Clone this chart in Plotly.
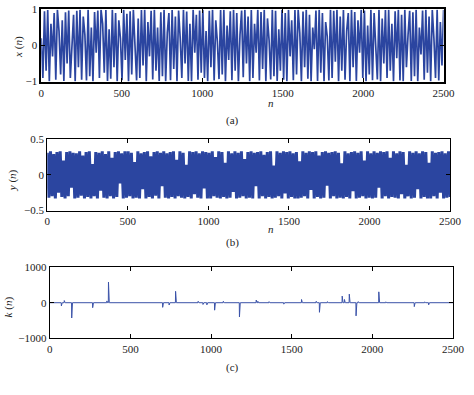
import numpy as np
import plotly.graph_objects as go

W, H = 474, 395
LINE = "#2b45a0"
FONT = "Liberation Serif"

# (a) x(n) chaotic input signal, read as one sample every ~10 steps
x_vals = [
 0.2, -0.9, 0.95, -0.7, 0.98, -0.99, 0.6, -0.3, 0.9, -0.95, 0.99, 0.4, -0.8, 0.7, -0.98, 0.92, -0.5, 0.97, -0.9, 0.1, 0.85, -0.99, 0.96, -0.6, 0.99,
 -0.95, 0.8, 0.3, -0.97, 0.99, -0.85, 0.5, -0.99, 0.93, -0.2, 0.97, -0.9, 0.99, 0.6, -0.75, 0.98, -0.98, 0.45, -0.92, 0.99, -0.6, 0.9, -0.99, 0.7, 0.2,
 -0.96, 0.99, -0.4, 0.88, -0.99, 0.95, -0.8, 0.99, 0.1, -0.97, 0.75, -0.9, 0.98, -0.55, 0.99, -0.99, 0.65, -0.3, 0.96, -0.94, 0.99, -0.7, 0.5, -0.98, 0.92,
 -0.85, 0.99, -0.99, 0.35, 0.9, -0.96, 0.98, -0.65, 0.8, -0.99, 0.97, 0.2, -0.9, 0.99, -0.5, 0.94, -0.98, 0.6, -0.99, 0.99, -0.2, 0.85, -0.95, 0.97, -0.75,
 0.99, -0.9, 0.4, -0.99, 0.96, -0.6, 0.99, -0.97, 0.7, 0.1, -0.93, 0.98, -0.8, 0.99, -0.99, 0.55, -0.4, 0.95, -0.96, 0.99, -0.7, 0.9, -0.99, 0.3, 0.97,
 -0.88, 0.99, -0.5, 0.8, -0.99, 0.98, -0.9, 0.6, -0.2, 0.99, -0.97, 0.93, -0.65, 0.99, -0.99, 0.75, 0.15, -0.94, 0.99, -0.85, 0.96, -0.98, 0.45, -0.7, 0.99,
 -0.95, 0.9, -0.99, 0.99, -0.3, 0.7, -0.96, 0.98, -0.8, 0.99, 0.35, -0.99, 0.94, -0.6, 0.99, -0.92, 0.85, -0.99, 0.5, -0.1, 0.97, -0.98, 0.99, -0.75, 0.9,
 -0.99, 0.65, 0.25, -0.97, 0.99, -0.9, 0.96, -0.45, 0.99, -0.99, 0.8, -0.7, 0.98, -0.95, 0.4, 0.9, -0.99, 0.99, -0.6, 0.93, -0.98, 0.7, -0.2, 0.99, -0.9,
 0.97, -0.99, 0.55, -0.8, 0.99, -0.96, 0.9, 0.05, -0.94, 0.99, -0.99, 0.75, -0.5, 0.98, -0.9, 0.99, -0.7, 0.6, -0.99, 0.95, -0.35, 0.99, -0.97, 0.85, -0.99,
 0.99, -0.6, 0.3, 0.96, -0.98, 0.92, -0.85, 0.99, -0.99, 0.5, -0.25, 0.97, -0.95, 0.99, -0.75, 0.8, -0.99, 0.98, 0.2, -0.9, 0.99, -0.97, 0.65, -0.55, 0.99,
]

# (b) y(n) output signal
y_vals = [
 0.31, -0.32, 0.33, -0.3, 0.29, -0.33, 0.32, -0.25, 0.33, -0.31, 0.2, -0.33, 0.32, -0.3, 0.33, -0.18, 0.31, -0.33, 0.3, -0.32, 0.33, -0.29, 0.27, -0.33, 0.32,
 -0.31, 0.33, -0.33, 0.15, -0.3, 0.32, -0.33, 0.31, -0.22, 0.33, -0.32, 0.29, -0.33, 0.33, -0.3, 0.24, -0.33, 0.32, -0.31, 0.33, -0.12, 0.3, -0.33, 0.33, -0.32,
 0.33, -0.3, 0.31, -0.33, 0.18, -0.32, 0.33, -0.33, 0.3, -0.2, 0.32, -0.33, 0.33, -0.31, 0.26, -0.33, 0.32, -0.29, 0.33, -0.33, 0.31, -0.16, 0.33, -0.32, 0.3,
 -0.33, 0.32, -0.31, 0.33, -0.33, 0.21, -0.3, 0.33, -0.32, 0.31, -0.33, 0.14, -0.31, 0.33, -0.33, 0.32, -0.27, 0.33, -0.32, 0.3, -0.33, 0.33, -0.19, 0.32, -0.33,
 0.31, -0.33, 0.33, -0.3, 0.25, -0.32, 0.33, -0.33, 0.32, -0.31, 0.17, -0.33, 0.33, -0.32, 0.3, -0.24, 0.33, -0.33, 0.31, -0.32, 0.33, -0.3, 0.22, -0.33, 0.32,
 -0.32, 0.33, -0.33, 0.31, -0.16, 0.32, -0.33, 0.33, -0.3, 0.28, -0.33, 0.32, -0.31, 0.33, -0.33, 0.13, -0.32, 0.33, -0.3, 0.31, -0.33, 0.33, -0.26, 0.32, -0.33,
 0.33, -0.31, 0.3, -0.33, 0.32, -0.33, 0.19, -0.32, 0.33, -0.3, 0.31, -0.33, 0.33, -0.21, 0.32, -0.33, 0.33, -0.31, 0.27, -0.33, 0.32, -0.32, 0.33, -0.15, 0.31,
 -0.33, 0.32, -0.3, 0.33, -0.33, 0.31, -0.32, 0.16, -0.33, 0.33, -0.31, 0.3, -0.33, 0.32, -0.23, 0.33, -0.33, 0.31, -0.32, 0.33, -0.3, 0.2, -0.33, 0.33, -0.32,
 0.3, -0.33, 0.33, -0.32, 0.31, -0.18, 0.33, -0.33, 0.32, -0.3, 0.33, -0.33, 0.24, -0.31, 0.33, -0.32, 0.3, -0.33, 0.33, -0.27, 0.32, -0.33, 0.14, -0.3, 0.33,
 -0.33, 0.31, -0.32, 0.33, -0.2, 0.3, -0.33, 0.33, -0.31, 0.32, -0.33, 0.17, -0.33, 0.33, -0.3, 0.31, -0.33, 0.32, -0.25, 0.33, -0.33, 0.3, -0.32, 0.33, -0.31,
]

# (c) k(n): spikes on a zero baseline
spike_n = [72, 90, 136, 266, 354, 364, 700, 740, 780, 920, 950, 974, 1022, 1076,
           1176, 1280, 1290, 1360, 1451, 1561, 1652, 1672, 1722, 1813, 1827, 1857,
           1899, 1913, 2040, 2084, 2220, 2260, 2325, 2349, 2426]
spike_v = [-90, 60, -430, -140, 50, 580, -130, -65, 320, 40, -50, -60, -210, 40,
           -400, 75, 40, 30, -40, 90, 40, -270, 30, 185, 90, 240,
           -370, 30, 305, 25, 20, -110, 25, -60, 20]

x_ticks = [0, 500, 1000, 1500, 2000, 2500]

n_x = np.linspace(0, 2500, len(x_vals))
n_y = np.linspace(0, 2500, len(y_vals))
n_k = np.arange(0, 2501)
k_vals = np.zeros(len(n_k))
for n, v in zip(spike_n, spike_v):
    k_vals[n] = v

fig = go.Figure()
fig.add_trace(go.Scatter(x=n_x, y=x_vals, mode="lines", line=dict(color=LINE, width=1.7), xaxis="x", yaxis="y"))
fig.add_trace(go.Scatter(x=n_y, y=y_vals, mode="lines", line=dict(color=LINE, width=3), xaxis="x2", yaxis="y2"))
fig.add_trace(go.Scatter(x=n_k, y=k_vals, mode="lines", line=dict(color="#3a52a8", width=1), xaxis="x3", yaxis="y3"))

def px(v):
    return v / W

def py(v):
    return 1 - v / H

panels = [
    # left, right, top, bottom, yrange, yticks, ylabel, frame width
    (39.5, 455.0, 3.5, 78.0, [-1, 1], [-1, 0, 1], ["−1", "0", "1"], 1.6),
    (45.7, 461.7, 137.3, 211.0, [-0.5, 0.5], [-0.5, 0, 0.5], ["−0.5", "0", "0.5"], 1.2),
    (48.3, 464.7, 269.3, 342.7, [-1000, 1000], [-1000, 0, 1000], ["−1000", "0", "1000"], 1.2),
]

layout = dict(
    width=W, height=H, margin=dict(l=0, r=0, t=0, b=0),
    paper_bgcolor="white", plot_bgcolor="white", showlegend=False,
    font=dict(family=FONT, size=11, color="#222"),
)
for i, (l, r, t, b, yr, yt, ytl, lw) in enumerate(panels):
    sfx = "" if i == 0 else str(i + 1)
    layout["xaxis" + sfx] = dict(
        domain=[px(l), px(r)], anchor="y" + sfx, range=[0, 2500],
        tickvals=x_ticks, ticktext=[str(v) for v in x_ticks],
        ticks="inside", ticklen=4, tickcolor="black", mirror="allticks",
        showline=True, linecolor="black", linewidth=lw,
        showgrid=False, zeroline=False,
        tickfont=dict(family=FONT, size=11, color="#222"),
    )
    layout["yaxis" + sfx] = dict(
        domain=[py(b), py(t)], anchor="x" + sfx, range=yr,
        tickvals=yt, ticktext=ytl,
        ticks="inside", ticklen=4, tickcolor="black", mirror="allticks",
        showline=True, linecolor="black", linewidth=lw,
        showgrid=False, zeroline=False,
        tickfont=dict(family=FONT, size=11, color="#222"),
    )

fig.update_layout(**layout)

ann = []
# y-axis titles
for txt, X, Y in [("<i>x</i> (<i>n</i>)", 16, 41.7), ("<i>y</i> (<i>n</i>)", 10, 180), ("<i>k</i> (<i>n</i>)", 6, 310)]:
    ann.append(dict(text=txt, x=px(X), y=py(Y), xref="paper", yref="paper", showarrow=False,
                    textangle=-90, font=dict(family=FONT, size=11, color="#222"), xanchor="center", yanchor="middle"))
# x-axis titles
for Y in [100, 230]:
    ann.append(dict(text="<i>n</i>", x=px(277), y=py(Y), xref="paper", yref="paper", showarrow=False,
                    font=dict(family=FONT, size=11, color="#222"), xanchor="center", yanchor="middle"))
# panel captions
for txt, Y in [("(a)", 118), ("(b)", 244), ("(c)", 372.7)]:
    ann.append(dict(text=txt, x=px(237), y=py(Y), xref="paper", yref="paper", showarrow=False,
                    font=dict(family=FONT, size=11, color="#222"), xanchor="center", yanchor="middle"))
fig.update_layout(annotations=ann)

fig.write_html("out.html", config={"displayModeBar": False},
               post_script="document.body.style.margin='0';document.body.style.overflow='hidden';")
